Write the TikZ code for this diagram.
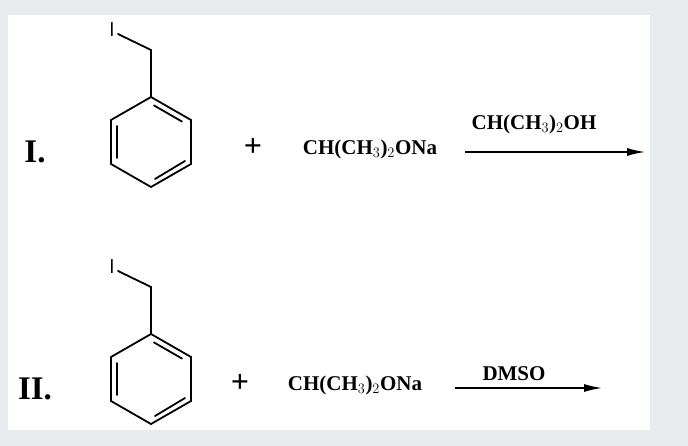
\documentclass[tikz,border=0pt]{standalone}
\usepackage{fontspec}
\setmainfont{Liberation Serif}
\usetikzlibrary{arrows.meta,calc}
\definecolor{bg}{HTML}{E9ECEF}
\begin{document}
\begin{tikzpicture}[x=1pt,y=-1pt,
  bond/.style={line width=1.8pt,line cap=round},
  lab/.style={font=\bfseries\fontsize{21}{24}\selectfont,inner sep=0pt},
  num/.style={font=\bfseries\fontsize{33}{36}\selectfont,inner sep=0pt},
  arr/.style={line width=1.4pt,-{Latex[length=18pt,width=8pt]}}]
\fill[bg] (0,0) rectangle (688,446);
\fill[white] (8,15) rectangle (650,430);
\foreach \dy/\nm in {0/a,237/b}{
 \begin{scope}[yshift=-\dy]
  \coordinate (\nm1) at (151,97);
  \coordinate (\nm2) at (191,120);
  \coordinate (\nm3) at (191,164);
  \coordinate (\nm4) at (151,187);
  \coordinate (\nm5) at (111,164);
  \coordinate (\nm6) at (111,120);
  \coordinate (\nm c) at (151,50);
  \node[font=\sffamily\fontsize{20}{22}\selectfont,inner sep=0pt] (\nm i) at (112,30) {I};
  \draw[bond] (\nm1)--(\nm2)--(\nm3)--(\nm4)--(\nm5)--(\nm6)--cycle;
  \draw[bond] (\nm1)--(\nm c)--(118,34);
  \draw[bond] ($(\nm1)!0.15!(\nm2)+(-3,5)$) -- ($(\nm1)!0.85!(\nm2)+(-3,5)$);
  \draw[bond] (117,126)--(117,158);
  \draw[bond] (155,179)--(185,161);
 \end{scope}}
\node[num] (n1) at (35,152) {I.};
\node[num] (n2) at (35,389) {II.};
\node[lab,font=\bfseries\fontsize{32}{34}\selectfont] (p1) at (253,147) {+};
\node[lab,font=\bfseries\fontsize{32}{34}\selectfont] (p2) at (240,383) {+};
\node[lab] (r1) at (370,149) {CH(CH$_3$)$_2$ONa};
\node[lab] (r2) at (355,385) {CH(CH$_3$)$_2$ONa};
\coordinate (a1s) at (465,152); \coordinate (a1e) at (645,152);
\coordinate (a2s) at (455,388); \coordinate (a2e) at (602,388);
\draw[arr] (a1s)--(a1e);
\draw[arr] (a2s)--(a2e);
\node[lab] (c1) at (534,124) {CH(CH$_3$)$_2$OH};
\node[lab] (c2) at (514,374) {DMSO};
\end{tikzpicture}
\end{document}
